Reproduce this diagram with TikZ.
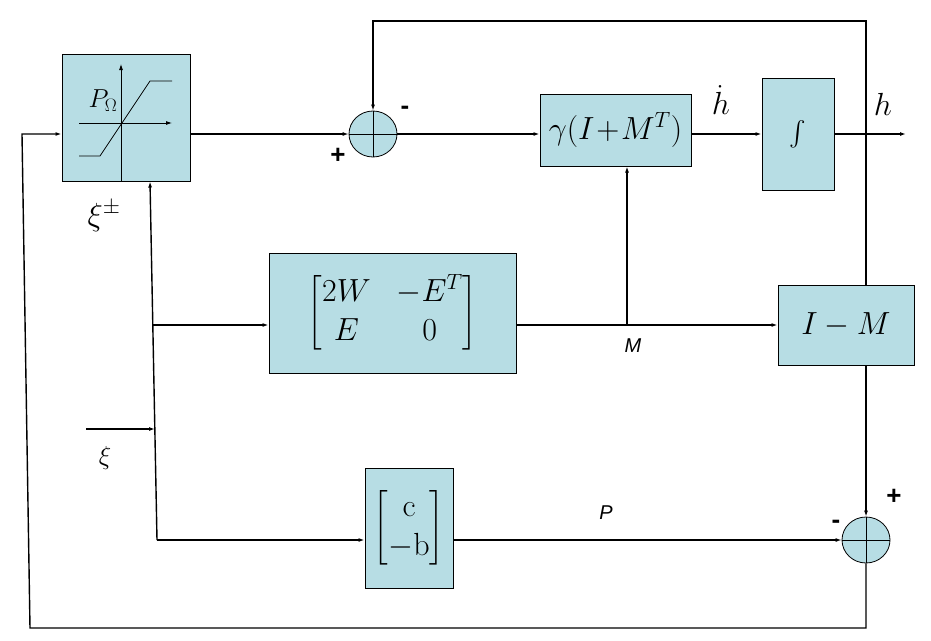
\RequirePackage{fix-cm}
\documentclass[tikz,border=0pt]{standalone}
\usepackage{amsmath}
\usepackage{fontspec}
\newfontfamily\sansf{Liberation Sans}
\usetikzlibrary{arrows.meta,shapes.geometric}
\definecolor{bx}{RGB}{183,221,228}
\DeclareMathSizes{32}{32}{22}{16}
\DeclareMathSizes{26}{26}{18}{13}
\begin{document}
\begin{tikzpicture}[x=1pt,y=-1pt,
  blk/.style={draw,fill=bx,line width=1pt,inner sep=0pt},
  sum/.style={draw,fill=bx,ellipse,minimum width=48pt,minimum height=46pt,inner sep=0pt,line width=0.8pt},
  ln/.style={line width=1.4pt},
  ar/.style={ln,-{Latex[length=6pt,width=4pt]}},
  big/.style={font=\fontsize{32}{36}\selectfont},
  sgn/.style={font=\sansf\bfseries\fontsize{26}{28}\selectfont},
  lab/.style={font=\sansf\itshape\fontsize{20}{22}\selectfont}]
\useasboundingbox (0,0) rectangle (931,640);
% blocks
\node[blk,minimum width=128pt,minimum height=127pt] (P) at (126,117.5) {};
\node[blk,minimum width=151pt,minimum height=72pt,big] (G) at (615.5,130) {$\gamma(I\!+\!M^T)$};
\node[blk,minimum width=72pt,minimum height=112pt,big] (I) at (798,134) {$\int$};
\node[blk,minimum width=136pt,minimum height=80pt,big] (IM) at (846,325) {$I-M$};
\node[blk,minimum width=247pt,minimum height=120pt,big] (W) at (392.5,313) {\renewcommand{\arraystretch}{1.1}$\begin{bmatrix}2W\hspace{0.5em} & -E^T\\ E\hspace{0.5em} & 0\end{bmatrix}$};
\node[blk,minimum width=88pt,minimum height=120pt,big] (C) at (409,528) {\renewcommand{\arraystretch}{1.1}$\begin{bmatrix}\mathrm{c}\\ -\mathrm{b}\end{bmatrix}$};
\node[sum] (S1) at (373,134) {};
\node[sum] (S2) at (866,540) {};
\draw[line width=0.6pt] (S1.north)--(S1.south) (S1.west)--(S1.east);
\draw[line width=0.6pt] (S2.north)--(S2.south) (S2.west)--(S2.east);
% saturation inside P
\draw[line width=0.8pt,-{Latex[length=6pt,width=4pt]}] (121,181)--(121,64);
\draw[line width=0.8pt,-{Latex[length=6pt,width=4pt]}] (79,123)--(172,123);
\draw[line width=0.8pt] (79,156)--(100,156)--(150,81)--(172,81);
\node[font=\fontsize{26}{28}\selectfont] (PO) at (103,101) {$P_{\Omega}$};
% labels
\node[sgn] (m1) at (405,110) {-};
\node[sgn] (p1) at (338,156) {+};
\node[sgn] (m2) at (836,524) {-};
\node[sgn] (p2) at (894,497) {+};
\node[big] (hd) at (721,100) {$\dot h$};
\node[big] (h) at (883,104) {$h$};
\node[lab] (Ml) at (633,346) {M};
\node[lab] (Pl) at (606,513) {P};
\node[font=\fontsize{32}{34}\selectfont] (xpm) at (104,216) {$\xi^{\pm}$};
\node[font=\fontsize{26}{28}\selectfont] (xi) at (105,458) {$\xi$};
% coordinates
\coordinate (t1) at (373,21);
\coordinate (t2) at (866,21);
\coordinate (out) at (906,134);
\coordinate (b1) at (866,628);
\coordinate (b2) at (30,628);
\coordinate (b3) at (22,134);
\coordinate (v0) at (157,540);
\coordinate (v1) at (152,325);
\coordinate (xs) at (86,429);
\coordinate (xe) at (155,429);
\coordinate (br) at (627,325);
% connectors
\draw[ar] (P.east|-S1) -- (S1.west);
\draw[ar] (S1.east) -- (G.west|-S1);
\draw[ar] (G.east|-S1) -- (I.west|-S1);
\draw[ar] (I.east|-S1) -- (out);
\draw[ar] (IM.north-|t2) -- (t2) -- (t1) -- (S1.north);
\draw[ar] (W.east|-v1) -- (IM.west|-v1);
\draw[ar] (br) -- (G.south-|br);
\draw[ar] (IM.south-|S2) -- (S2.north);
\draw[ar] (C.east|-v0) -- (S2.west);
\draw[ar] (S2.south) -- (b1) -- (b2) -- (b3) -- (P.west|-b3);
\draw[ar] (v0) -- (P.south-|150,0);
\draw[ar] (v0) -- (C.west|-v0);
\draw[ar] (v1) -- (W.west|-v1);
\draw[ar] (xs) -- (xe);
\end{tikzpicture}
\end{document}
